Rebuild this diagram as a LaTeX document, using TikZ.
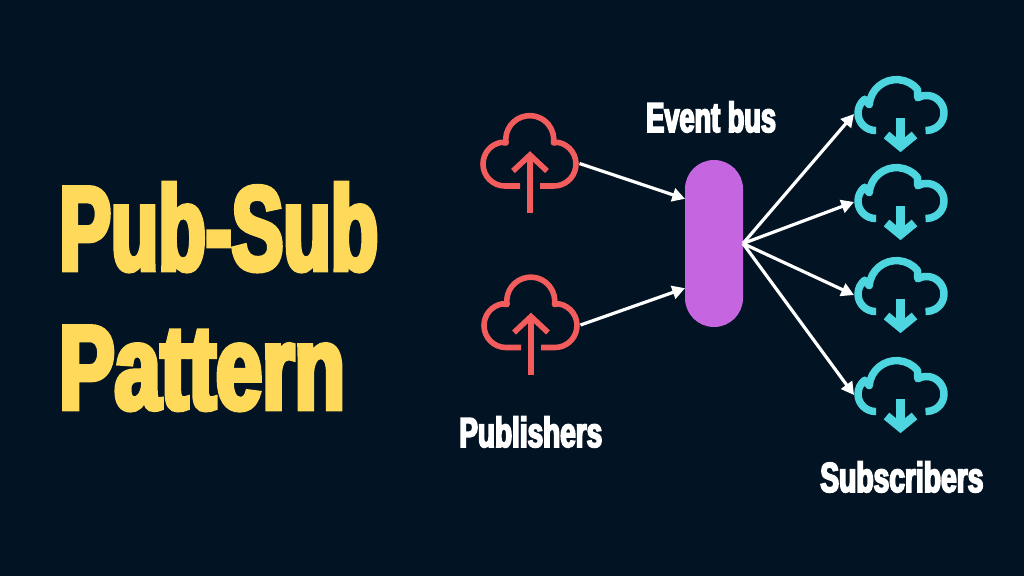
\documentclass[tikz,border=0pt]{standalone}
\usepackage{fontspec}
\usetikzlibrary{arrows.meta}
\newfontfamily\antonlike[FakeStretch=0.64,FakeBold=4]{Liberation Sans Bold}
\definecolor{bgdark}{HTML}{021423}
\definecolor{titleyellow}{HTML}{FFD95A}
\definecolor{pubred}{HTML}{F25C5C}
\definecolor{buspurple}{HTML}{C566E0}
\definecolor{subteal}{HTML}{4DD6E0}
\tikzset{
  iconbox/.style={inner sep=0pt,outer sep=0pt},
  title/.style={anchor=base west,inner sep=0pt,text=titleyellow,font=\antonlike\fontsize{90pt}{90pt}\selectfont},
  label/.style={anchor=base west,inner sep=0pt,text=white,font=\antonlike\fontsize{31.5pt}{31.5pt}\selectfont},
  pubstroke/.style={draw=pubred,line width=4.2pt,line cap=butt,line join=round},
  substroke/.style={draw=subteal,line width=5.6pt,line cap=butt,line join=round},
  link/.style={draw=white,line width=2.4pt,-{Triangle[length=9.5pt,width=10pt]}}
}
\newcommand{\pubicon}[3]{%
  \node[iconbox,minimum width=74.25pt,minimum height=74.25pt] (#1) at (#2,#3) {};
  \begin{scope}[shift={(#2,#3-13.5)},x=.75pt,y=.75pt]
    \draw[pubstroke] (-10,-36) -- (-25,-36) arc[start angle=270,end angle=100,radius=22]
      -- (-24,7) arc[start angle=188,end angle=-8,radius=24]
      -- (27.8,7.7) arc[start angle=80,end angle=-90,radius=22] -- (10,-36);
    \draw[pubstroke,line width=4.5pt] (0,-63) -- (0,-6);
    \draw[pubstroke,line join=miter] (-17,-21) -- (0,-5) -- (17,-21);
  \end{scope}}
\newcommand{\subicon}[3]{%
  \node[iconbox,minimum width=69.75pt,minimum height=57pt] (#1) at (#2,#3+38) {};
  \begin{scope}[shift={(#2,#3)},x=.75pt,y=.75pt]
    \draw[substroke] (-24.5,-54.5) -- (-25,-54.5) arc[start angle=270,end angle=128,radius=17.5]
      -- (-31.3,-28.6) arc[start angle=175,end angle=40,radius=27.4]
      -- (17.25,-21.8) arc[start angle=120,end angle=-90,radius=17.5] -- (25,-54.5);
    \draw[substroke,line width=7pt] (0,-42) -- (0,-70);
    \draw[substroke,line width=6.5pt,line join=miter] (-14,-59) -- (0,-70.5) -- (14,-59);
  \end{scope}}
\begin{document}
\begin{tikzpicture}[x=.75pt,y=-.75pt]
  \useasboundingbox (0,0) rectangle (1024,576);
  \fill[bgdark] (0,0) rectangle (1024,576);

  \node[title] (t1) at (59,270) {\scalebox{1.01}[1]{Pub-Sub}};
  \node[title] (t2) at (59,409) {\scalebox{1.08}[1]{Pattern}};
  \node[label] (l1) at (646,132) {\scalebox{1.01}[1]{Event bus}};
  \node[label] (l2) at (459,447) {\scalebox{1.04}[1]{Publishers}};
  \node[label] (l3) at (820,492) {\scalebox{1.05}[1]{Subscribers}};

  \node[fill=buspurple,draw=none,inner sep=0pt,outer sep=0pt,
        minimum width=43.5pt,minimum height=125.25pt,rounded corners=21.7pt] (bus) at (714,243.5) {};

  \pubicon{p1}{530}{163.5}
  \pubicon{p2}{531}{325}
  \subicon{s1}{900.5}{76}
  \subicon{s2}{900.5}{164}
  \subicon{s3}{900.5}{257}
  \subicon{s4}{900.5}{357}

  \draw[link] (p1.east) -- (bus.123);
  \draw[link] (p2.east) -- (bus.237);
  \draw[link] (bus.east) -- (s1.west);
  \draw[link] (bus.east) -- (s2.west);
  \draw[link] (bus.east) -- (s3.west);
  \draw[link] (bus.east) -- (s4.west);
\end{tikzpicture}
\end{document}
